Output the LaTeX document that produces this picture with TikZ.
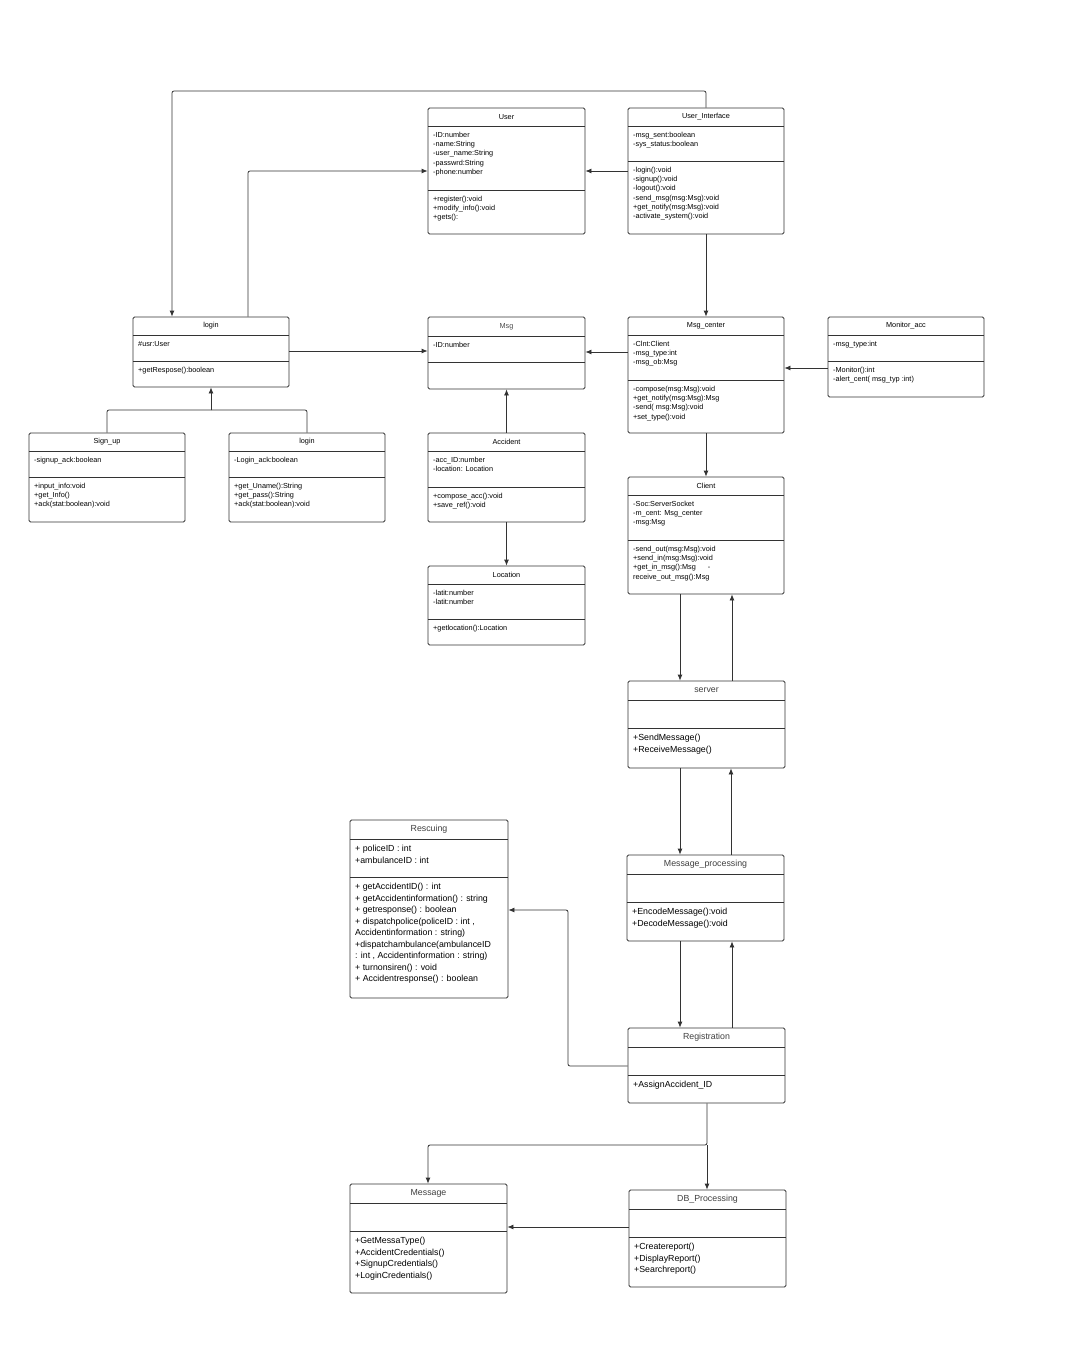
\documentclass[tikz,border=0pt]{standalone}
\usepackage{fontspec}
\setmainfont{Liberation Sans}
\usetikzlibrary{arrows.meta}
\tikzset{
  box/.style={draw=black!80, line width=0.8pt, rounded corners=1.5pt},
  div/.style={draw=black!80, line width=0.6pt},
  conn/.style={draw=black!80, line width=0.8pt, -{Latex[length=6pt,width=5pt]}},
  plain/.style={draw=black!80, line width=0.8pt},
  small/.style={font=\fontsize{7.3}{9.2}\selectfont},
  big/.style={font=\fontsize{8.8}{11.5}\selectfont},
  cur/.style={small},
  ttl/.style={cur, anchor=center, inner sep=0pt},
  txt/.style={cur, anchor=north west, align=left, inner sep=0pt},
}
% name, x1, y1, x2, y2, d1, d2, title, attrs
\newcommand\umlc[9]{%
  \node[box, minimum width=#4-#2, minimum height=#5-#3, inner sep=0pt] (#1) at ({(#2+#4)/2},{(#3+#5)/2}) {};
  \draw[div] (#2,#6) -- (#4,#6);
  \draw[div] (#2,#7) -- (#4,#7);
  \node[ttl] (#1-t) at ({(#2+#4)/2},{(#3+#6)/2}) {#8};
  \node[txt] (#1-a) at (#2+5,#6+6) {#9};
  \coordinate (#1-m) at (#2+5,#7+6);
}
\begin{document}
\begin{tikzpicture}[x=1pt,y=-1pt]
\useasboundingbox[fill=white] (0,0) rectangle (1080,1359);
\umlc{user}{428}{108}{585}{234}{126}{190}{User}{-ID:number\\-name:String\\-user\_name:String\\-passwrd:String\\-phone:number}
\node[txt] at (user-m) {+register():void\\+modify\_info():void\\+gets():};
\umlc{ui}{628}{108}{784}{234}{126}{161}{User\_Interface}{-msg\_sent:boolean\\-sys\_status:boolean}
\node[txt] at (ui-m) {-login():void\\-signup():void\\-logout():void\\-send\_msg(msg:Msg):void\\+get\_notify(msg:Msg):void\\-activate\_system():void};
\umlc{login}{133}{317}{289}{387}{335}{361}{login}{\#usr:User}
\node[txt] at (login-m) {+getRespose():boolean};
\umlc{msg}{428}{317}{585}{389}{336}{362}{\textcolor{black!70}{Msg}}{-ID:number}
\umlc{mc}{628}{317}{784}{433}{335}{380}{Msg\_center}{-Clnt:Client\\-msg\_type:int\\-msg\_ob:Msg}
\node[txt] at (mc-m) {-compose(msg:Msg):void\\+get\_notify(msg:Msg):Msg\\-send( msg:Msg):void\\+set\_type():void};
\umlc{mon}{828}{317}{984}{397}{335}{361}{Monitor\_acc}{-msg\_type:int}
\node[txt] at (mon-m) {-Monitor():int\\-alert\_cent( msg\_typ :int)};
\umlc{su}{29}{433}{185}{522}{451}{477}{Sign\_up}{-signup\_ack:boolean}
\node[txt] at (su-m) {+input\_info:void\\+get\_Info()\\+ack(stat:boolean):void};
\umlc{lg}{229}{433}{385}{522}{451}{477}{login}{-Login\_ack:boolean}
\node[txt] at (lg-m) {+get\_Uname():String\\+get\_pass():String\\+ack(stat:boolean):void};
\umlc{acc}{428}{433}{585}{522}{451}{487}{Accident}{-acc\_ID:number\\-location: Location}
\node[txt] at (acc-m) {+compose\_acc():void\\+save\_ref():void};
\umlc{loc}{428}{566}{585}{645}{584}{619}{Location}{-latit:number\\-latit:number}
\node[txt] at (loc-m) {+getlocation():Location};
\umlc{cl}{628}{477}{784}{594}{495}{540}{Client}{-Soc:ServerSocket\\-m\_cent: Msg\_center\\-msg:Msg}
\node[txt] at (cl-m) {-send\_out(msg:Msg):void\\+send\_in(msg:Msg):void\\+get\_in\_msg():Msg\hspace{12pt}-\\receive\_out\_msg():Msg};
\tikzset{cur/.style={big}}
\umlc{srv}{628}{681}{785}{768}{700}{728}{\textcolor{black!75}{server}}{}
\node[txt] at (srv-m) {+SendMessage()\\+ReceiveMessage()};
\umlc{mp}{627}{855}{784}{941}{874}{902}{\textcolor{black!75}{Message\_processing}}{}
\node[txt] at (mp-m) {+EncodeMessage():void\\+DecodeMessage():void};
\umlc{res}{350}{820}{508}{998}{839}{877}{\textcolor{black!75}{Rescuing}}{+ policeID : int\\+ambulanceID : int}
\node[txt] at (res-m) {+ getAccidentID() : int\\+ getAccidentinformation() : string\\+ getresponse() : boolean\\+ dispatchpolice(policeID : int ,\\Accidentinformation : string)\\+dispatchambulance(ambulanceID\\: int , Accidentinformation : string)\\+ turnonsiren() : void\\+ Accidentresponse() : boolean};
\umlc{reg}{628}{1028}{785}{1103}{1047}{1075}{\textcolor{black!75}{Registration}}{}
\node[txt] at (reg-m) {+AssignAccident\_ID};
\umlc{mess}{350}{1184}{507}{1293}{1203}{1231}{\textcolor{black!75}{Message}}{}
\node[txt] at (mess-m) {+GetMessaType()\\+AccidentCredentials()\\+SignupCredentials()\\+LoginCredentials()};
\umlc{db}{629}{1190}{786}{1287}{1209}{1237}{\textcolor{black!75}{DB\_Processing}}{}
\node[txt] at (db-m) {+Createreport()\\+DisplayReport()\\+Searchreport()};
% connectors
\draw[conn, rounded corners=2pt] (ui.north) -- (706,91) -- (172,91) -- (login.north -| 172,0);
\draw[conn] (ui.west |- 0,171) -- (user.east |- 0,171);
\draw[conn, rounded corners=2pt] (login.north -| 248,0) -- (248,171) -- (user.west |- 0,171);
\draw[conn] (login.east |- 0,351) -- (msg.west |- 0,351);
\draw[conn] (mc.west |- 0,352) -- (msg.east |- 0,352);
\draw[conn] (ui.south) -- (mc.north);
\draw[conn] (mon.west |- 0,368) -- (mc.east |- 0,368);
\draw[plain, rounded corners=2pt] (su.north) -- (107,410) -- (211,410);
\draw[plain, rounded corners=2pt] (lg.north) -- (307,410) -- (211,410);
\draw[conn] (211,410) -- (login.south -| 211,0);
\draw[conn] (acc.north) -- (msg.south);
\draw[conn] (acc.south) -- (loc.north);
\draw[conn] (mc.south) -- (cl.north);
\draw[conn] (cl.south -| 680,0) -- (srv.north -| 680,0);
\draw[conn] (srv.north -| 732,0) -- (cl.south -| 732,0);
\draw[conn] (srv.south -| 680,0) -- (mp.north -| 680,0);
\draw[conn] (mp.north -| 731,0) -- (srv.south -| 731,0);
\draw[conn] (mp.south -| 680,0) -- (reg.north -| 680,0);
\draw[conn] (reg.north -| 732,0) -- (mp.south -| 732,0);
\draw[conn, rounded corners=2pt] (reg.west |- 0,1066) -- (568,1066) -- (568,910) -- (res.east |- 0,910);
\draw[conn, rounded corners=2pt] (reg.south -| 707,0) -- (707,1145) -- (428,1145) -- (mess.north -| 428,0);
\draw[conn] (707,1145) -- (db.north -| 707,0);
\draw[conn] (db.west |- 0,1227) -- (mess.east |- 0,1227);
\end{tikzpicture}
\end{document}
